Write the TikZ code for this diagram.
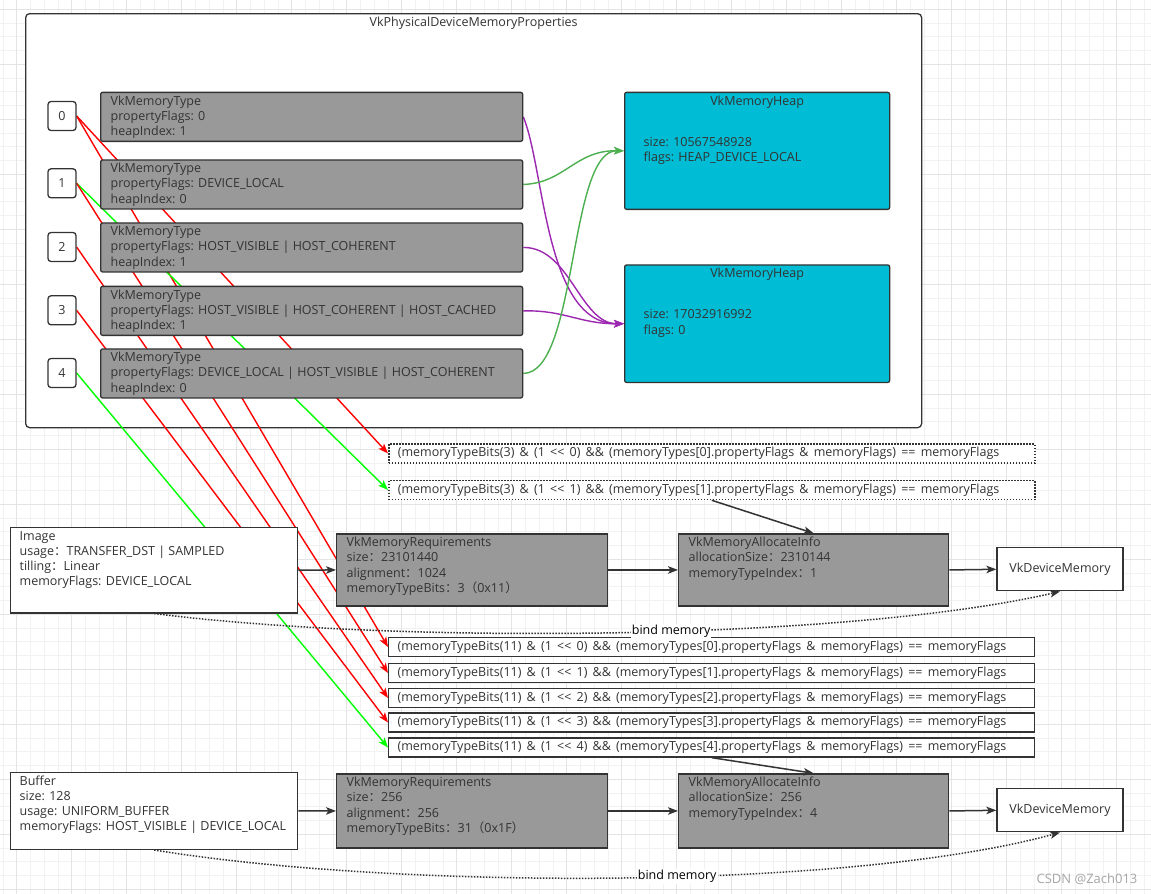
\documentclass[tikz,border=0pt]{standalone}
\usepackage{fontspec}
\setmainfont{Open Sans}
\newfontfamily\cjk{Noto Sans CJK SC}
\usetikzlibrary{arrows.meta}
\pgfdeclarelayer{gridlayer}
\pgfdeclarelayer{boxlayer}
\pgfdeclarelayer{wirelayer}
\pgfsetlayers{gridlayer,boxlayer,wirelayer,main}
\definecolor{txt}{HTML}{333333}
\definecolor{bord}{HTML}{333333}
\definecolor{grayfill}{HTML}{999999}
\definecolor{heapfill}{HTML}{00BCD4}
\definecolor{purp}{HTML}{9C27B0}
\definecolor{softgreen}{HTML}{4CAF50}
\definecolor{brightgreen}{HTML}{00FF00}
\definecolor{brightred}{HTML}{FF0000}
\definecolor{gridminor}{HTML}{F2F2F2}
\definecolor{gridmajor}{HTML}{E4E4E4}
\definecolor{wm}{HTML}{A6A6A6}
\newcommand\fc{{\cjk ：}}
\newcommand\lp{{\cjk （}}
\newcommand\rp{{\cjk ）}}
\newcommand\tbox[3]{\begin{minipage}[c][#2][t]{#1}\rule{0pt}{12.7pt}#3\end{minipage}}
\newcommand\hbx[3]{\begin{minipage}[c][#1][t]{227pt}\centering\rule{0pt}{12.7pt}VkMemoryHeap\par\vspace{26pt}\raggedright\mbox{#2}\\\mbox{#3}\end{minipage}}
\newcommand\ftext[1]{\makebox[628pt][l]{\spaceskip=5.2pt#1}}
\begin{document}
\begin{tikzpicture}[x=1pt,y=-1pt,
  every node/.style={text=txt,font=\fontsize{12.5}{15.3}\selectfont},
  cbox/.style={draw=bord,fill=white,line width=1.3pt,rounded corners=4pt,inner sep=0pt,anchor=north west},
  gbox/.style={draw=bord,fill=grayfill,line width=1.3pt,rounded corners=2pt,inner xsep=10pt,inner ysep=0pt,anchor=north west},
  sbox/.style={draw=bord,fill=grayfill,line width=1.3pt,inner xsep=10pt,inner ysep=0pt,anchor=north west},
  wbox/.style={draw=bord,fill=white,line width=1.3pt,inner xsep=9pt,inner ysep=0pt,anchor=north west},
  dmbox/.style={draw=bord,fill=white,line width=1.3pt,minimum width=126pt,minimum height=43pt,inner sep=0pt},
  hbox/.style={draw=bord,fill=heapfill,line width=1.3pt,rounded corners=2pt,inner xsep=19pt,inner ysep=0pt,anchor=north west},
  nbox/.style={draw=bord,fill=white,line width=1.3pt,rounded corners=3pt,minimum width=28pt,minimum height=29pt,inner sep=0pt},
  fbase/.style={fill=white,inner xsep=9pt,inner ysep=0pt,minimum height=19pt,anchor=west},
  fdot/.style={fbase,draw=bord,dash pattern=on 1.5pt off 1.5pt,line width=1.6pt},
  fsolid/.style={fbase,draw=bord,line width=1.3pt},
  arrowtip/.style={-{Stealth[length=10pt,width=7.5pt,inset=2.5pt]}},
  redw/.style={arrowtip,draw=brightred,line width=1.4pt},
  greenw/.style={arrowtip,draw=brightgreen,line width=1.4pt},
  purpc/.style={arrowtip,draw=purp,line width=1.4pt},
  greenc/.style={arrowtip,draw=softgreen,line width=1.4pt},
  darkarrow/.style={arrowtip,draw=bord,line width=1.5pt},
  bind/.style={arrowtip,draw=bord,line width=1.5pt,dash pattern=on 1.5pt off 1.5pt},
  blabel/.style={fill=white,inner sep=1pt,text=black}
]
\useasboundingbox (0,0) rectangle (1151,894);
\begin{pgfonlayer}{gridlayer}
\fill[white] (0,0) rectangle (1151,894);
\foreach \i in {0,...,83} \draw[gridminor,line width=0.8pt] ({2.95+13.75*\i},0) -- ({2.95+13.75*\i},894);
\foreach \j in {0,...,64} \draw[gridminor,line width=0.8pt] (0,{9.3+13.75*\j}) -- (1151,{9.3+13.75*\j});
\foreach \i in {0,...,20} \draw[gridmajor,line width=0.8pt] ({16.7+55*\i},0) -- ({16.7+55*\i},894);
\foreach \j in {0,...,16} \draw[gridmajor,line width=0.8pt] (0,{9.3+55*\j}) -- (1151,{9.3+55*\j});
\end{pgfonlayer}
\begin{pgfonlayer}{boxlayer}
\node[cbox] (cont) at (25,13) {\begin{minipage}[c][414pt][t]{896pt}\centering\rule{0pt}{13pt}VkPhysicalDeviceMemoryProperties\end{minipage}};
\end{pgfonlayer}
% number boxes
\node[nbox] (n0) at (62,116) {0};
\node[nbox] (n1) at (62,183.3) {1};
\node[nbox] (n2) at (62,247) {2};
\node[nbox] (n3) at (62,310.3) {3};
\node[nbox] (n4) at (62,373) {4};
% memory types
\node[gbox] (mt0) at (100,91.7) {\tbox{402pt}{49pt}{\mbox{VkMemoryType}\\\mbox{propertyFlags: 0}\\\mbox{heapIndex: 1}}};
\node[gbox] (mt1) at (100,159.3) {\tbox{402pt}{49pt}{\mbox{VkMemoryType}\\\mbox{propertyFlags: DEVICE\_LOCAL}\\\mbox{heapIndex: 0}}};
\node[gbox] (mt2) at (100,222.3) {\tbox{402pt}{49pt}{\mbox{VkMemoryType}\\\mbox{propertyFlags: HOST\_VISIBLE | HOST\_COHERENT}\\\mbox{heapIndex: 1}}};
\node[gbox] (mt3) at (100,285.7) {\tbox{402pt}{49pt}{\mbox{VkMemoryType}\\\mbox{propertyFlags: HOST\_VISIBLE | HOST\_COHERENT | HOST\_CACHED}\\\mbox{heapIndex: 1}}};
\node[gbox] (mt4) at (100,348.3) {\tbox{402pt}{49pt}{\mbox{VkMemoryType}\\\mbox{propertyFlags: DEVICE\_LOCAL | HOST\_VISIBLE | HOST\_COHERENT}\\\mbox{heapIndex: 0}}};
% heaps
\node[hbox] (hp0) at (624,91.7) {\hbx{117pt}{size: 10567548928}{flags: HEAP\_DEVICE\_LOCAL}};
\node[hbox] (hp1) at (624,264.3) {\hbx{117.5pt}{size: 17032916992}{flags: 0}};
% formulas
\node[fdot] (f30) at (388,453.5) {\ftext{(memoryTypeBits(3) \& (1 <{}< 0) \&\& (memoryTypes[0].propertyFlags \& memoryFlags) == memoryFlags}};
\node[fdot] (f31) at (388,490) {\ftext{(memoryTypeBits(3) \& (1 <{}< 1) \&\& (memoryTypes[1].propertyFlags \& memoryFlags) == memoryFlags}};
\node[fsolid] (f110) at (388,647) {\ftext{(memoryTypeBits(11) \& (1 <{}< 0) \&\& (memoryTypes[0].propertyFlags \& memoryFlags) == memoryFlags}};
\node[fsolid] (f111) at (388,673) {\ftext{(memoryTypeBits(11) \& (1 <{}< 1) \&\& (memoryTypes[1].propertyFlags \& memoryFlags) == memoryFlags}};
\node[fsolid] (f112) at (388,698) {\ftext{(memoryTypeBits(11) \& (1 <{}< 2) \&\& (memoryTypes[2].propertyFlags \& memoryFlags) == memoryFlags}};
\node[fsolid] (f113) at (388,722.5) {\ftext{(memoryTypeBits(11) \& (1 <{}< 3) \&\& (memoryTypes[3].propertyFlags \& memoryFlags) == memoryFlags}};
\node[fsolid] (f114) at (388,747.5) {\ftext{(memoryTypeBits(11) \& (1 <{}< 4) \&\& (memoryTypes[4].propertyFlags \& memoryFlags) == memoryFlags}};
% image row
\node[wbox] (img) at (10,526.7) {\tbox{269pt}{85.5pt}{\mbox{Image}\\\mbox{usage\fc TRANSFER\_DST | SAMPLED}\\\mbox{tilling\fc Linear}\\\mbox{memoryFlags: DEVICE\_LOCAL}}};
\node[sbox] (req1) at (336,533.3) {\tbox{251pt}{72pt}{\mbox{VkMemoryRequirements}\\\mbox{size\fc 23101440}\\\mbox{alignment\fc 1024}\\\mbox{memoryTypeBits\fc 3\lp 0x11\rp}}};
\node[sbox] (al1) at (678,533.3) {\tbox{250pt}{72pt}{\mbox{VkMemoryAllocateInfo}\\\mbox{allocationSize\fc 2310144}\\\mbox{memoryTypeIndex\fc 1}}};
\node[dmbox] (dm1) at (1060,569.3) {VkDeviceMemory};
% buffer row
\node[wbox] (buf) at (10,771.7) {\tbox{269pt}{77pt}{\mbox{Buffer}\\\mbox{size: 128}\\\mbox{usage: UNIFORM\_BUFFER}\\\mbox{memoryFlags: HOST\_VISIBLE | DEVICE\_LOCAL}}};
\node[sbox] (req2) at (336,773.3) {\tbox{251pt}{74pt}{\mbox{VkMemoryRequirements}\\\mbox{size\fc 256}\\\mbox{alignment\fc 256}\\\mbox{memoryTypeBits\fc 31\lp 0x1F\rp}}};
\node[sbox] (al2) at (678,773.3) {\tbox{250pt}{74pt}{\mbox{VkMemoryAllocateInfo}\\\mbox{allocationSize\fc 256}\\\mbox{memoryTypeIndex\fc 4}}};
\node[dmbox] (dm2) at (1060,810.3) {VkDeviceMemory};
% wires
\begin{pgfonlayer}{wirelayer}
\draw[redw] (n0.east) -- (f30.west);
\draw[redw] (n0.east) -- (f110.west);
\draw[greenw] (n1.east) -- (f31.west);
\draw[redw] (n1.east) -- (f111.west);
\draw[redw] (n2.east) -- (f112.west);
\draw[redw] (n3.east) -- (f113.west);
\draw[greenw] (n4.east) -- (f114.west);
\draw[purpc] (mt0.east) .. controls (545,170) and (545,324) .. (hp1.west);
\draw[purpc] (mt2.east) .. controls (570,247) and (580,324) .. (hp1.west);
\draw[purpc] (mt3.east) .. controls (565,310) and (580,324) .. (hp1.west);
\draw[greenc] (mt1.east) .. controls (565,183) and (575,150) .. (hp0.west);
\draw[greenc] (mt4.east) .. controls (578,373) and (568,150) .. (hp0.west);
\end{pgfonlayer}
% flow arrows
\draw[darkarrow] (img.east) -- (req1.west);
\draw[darkarrow] (req1.east) -- (al1.west);
\draw[darkarrow] (al1.east) -- (dm1.west);
\draw[darkarrow] (f31.south) -- (al1.north);
\draw[darkarrow] (buf.east) -- (req2.west);
\draw[darkarrow] (req2.east) -- (al2.west);
\draw[darkarrow] (al2.east) -- (dm2.west);
\draw[darkarrow] (f114.south) -- (al2.north);
\draw[bind] (img.south) .. controls (400,645) and (850,640) .. node[blabel,pos=0.55] (bl1) {bind memory} (dm1.south);
\draw[bind] (buf.south) .. controls (400,890) and (850,890) .. node[blabel,pos=0.556] (bl2) {bind memory} (dm2.south);
\node[text=wm,font=\fontsize{13}{15}\selectfont] (wmk) at (1087,879) {CSDN @Zach013};
\end{tikzpicture}
\end{document}
